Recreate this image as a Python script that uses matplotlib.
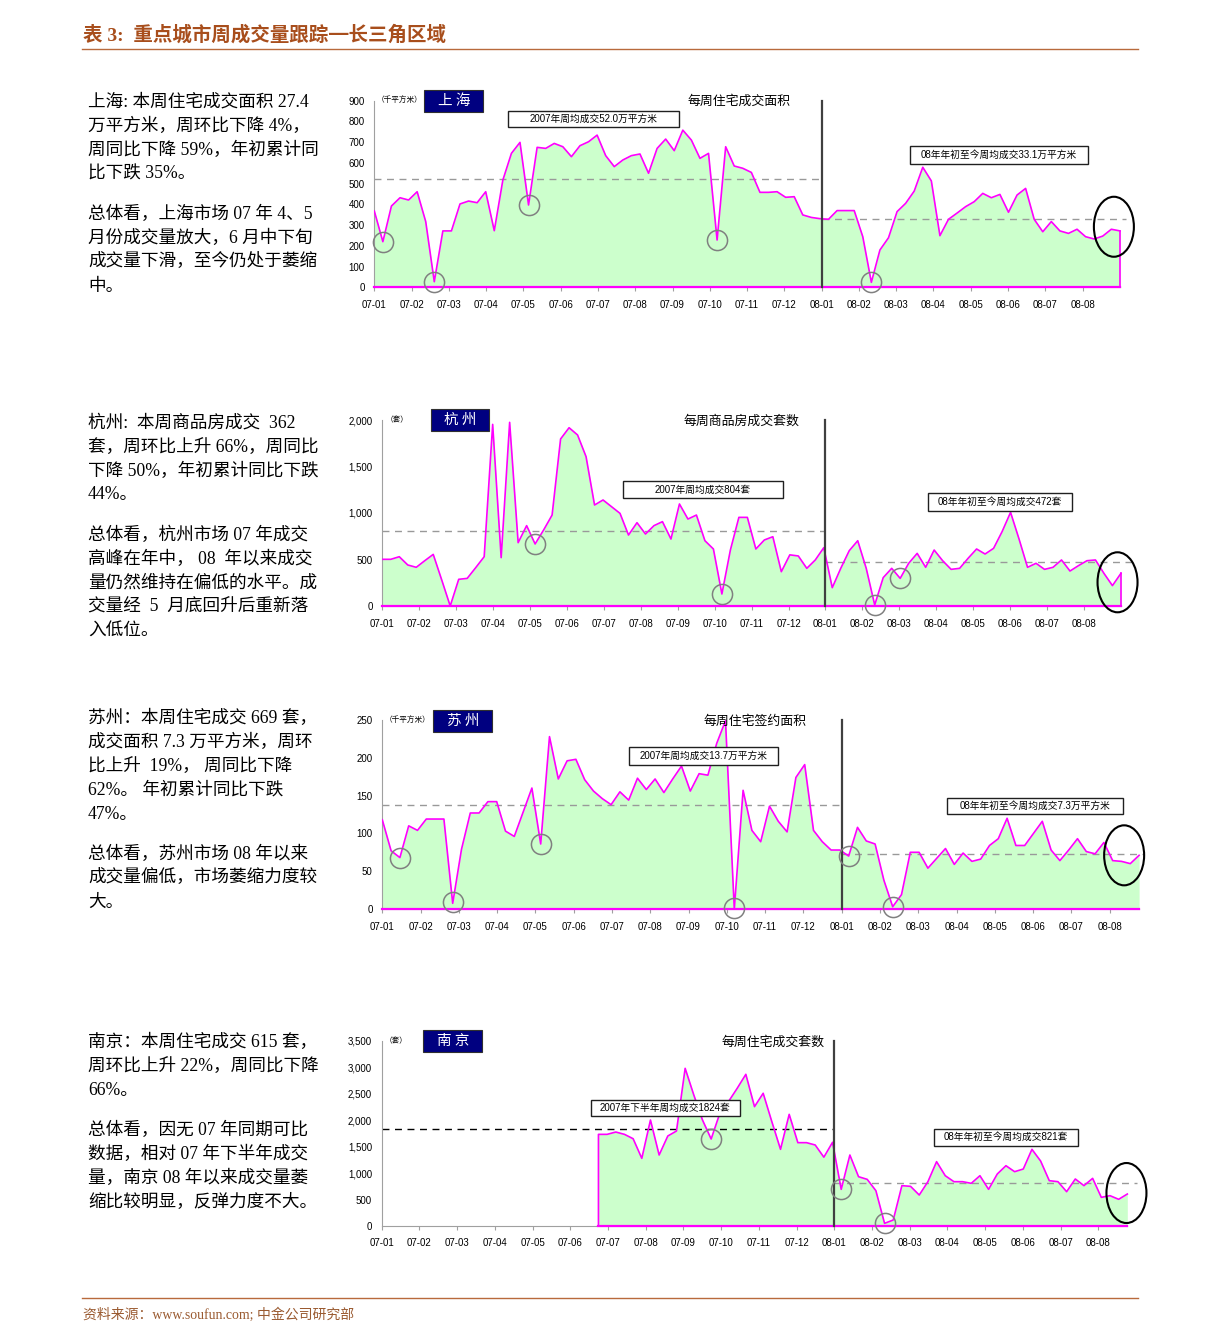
import numpy as np
import matplotlib
matplotlib.use('Agg')
import matplotlib.pyplot as plt
from matplotlib.patches import Rectangle, Ellipse
from matplotlib.ticker import FuncFormatter

# ---------------- data ----------------
months = ['07-01', '07-02', '07-03', '07-04', '07-05', '07-06', '07-07', '07-08', '07-09', '07-10',
          '07-11', '07-12', '08-01', '08-02', '08-03', '08-04', '08-05', '08-06', '08-07', '08-08']

sh_vals = [368, 220, 392, 432, 421, 461, 317, 27, 272, 272, 402, 416, 408, 461, 273, 517, 646, 699,
           397, 675, 670, 694, 678, 630, 683, 702, 734, 635, 582, 614, 635, 643, 550, 670, 715, 659,
           758, 710, 622, 646, 228, 678, 585, 574, 554, 458, 458, 461, 434, 437, 349, 337, 331, 328,
           370, 370, 370, 244, 24, 180, 239, 365, 405, 464, 579, 513, 249, 328, 358, 389, 413, 453,
           432, 448, 362, 445, 477, 328, 268, 317, 272, 260, 280, 244, 233, 247, 280, 272]
hz_vals = [502, 502, 530, 441, 416, 487, 555, 280, 0, 287, 297, 412, 530, 1953, 520, 1975, 681, 864,
           667, 817, 978, 1796, 1917, 1839, 1606, 1086, 1140, 1068, 996, 763, 896, 774, 864, 907, 720,
           1097, 935, 978, 702, 613, 129, 602, 953, 953, 613, 710, 745, 369, 550, 538, 405, 495, 627,
           197, 405, 595, 702, 405, 11, 305, 405, 297, 459, 566, 416, 602, 487, 394, 405, 513, 613,
           559, 620, 799, 1007, 720, 416, 459, 394, 416, 495, 376, 434, 487, 495, 351, 219, 351]
sz_vals = [118, 77, 68, 110, 104, 119, 119, 119, 7.5, 79, 127, 127, 142, 142, 103, 96, 128, 160, 86,
           228, 172, 196, 198, 171, 156, 146, 138, 155, 144, 173, 158, 172, 154, 172, 189, 156, 179,
           177, 219, 249, 0, 157, 104, 89, 136, 116, 102, 174, 191, 104, 89, 78, 78, 70, 108, 90, 86,
           38, 3, 19, 75, 75, 54, 67, 80, 59, 74, 63, 66, 84, 93, 120, 84, 84, 100, 116, 78, 64, 78,
           93, 76, 73, 88, 64, 63, 60, 71]
nj_vals = [None] * 25 + [1731, 1731, 1775, 1731, 1649, 1278, 2002, 1341, 1700, 1794, 2978, 2474, 2002,
                         1643, 2128, 2350, 2600, 2865, 2254, 2507, 1970, 1448, 2109, 1574, 1574, 1530,
                         1300, 1581, 692, 1341, 931, 881, 667, 50, 113, 762, 749, 585, 837, 1215, 950,
                         837, 837, 806, 950, 692, 982, 1139, 1026, 1076, 1448, 1227, 856, 837, 648, 888,
                         762, 900, 541, 573, 504, 604]

sh_avg = [520, 331]
hz_avg = [804, 472]
sz_avg = [137, 73]
nj_avg = [1824, 821]

sh_circles = [(1, 220), (7, 27), (18, 397), (40, 228), (58, 24)]
hz_circles = [(18, 667), (40, 129), (58, 11), (61, 297)]
sz_circles = [(2, 68), (8, 9), (18, 86), (40, 1), (53, 70), (58, 3)]
nj_circles = [(38, 1643), (53, 692), (58, 50)]

sh_ring = (86.3, 292)
hz_ring = (86.6, 255)
sz_ring = (84.3, 71)
nj_ring = (85.9, 623)

sh_yticks = [0, 100, 200, 300, 400, 500, 600, 700, 800, 900]
hz_yticks = [0, 500, 1000, 1500, 2000]
sz_yticks = [0, 50, 100, 150, 200, 250]
nj_yticks = [0, 500, 1000, 1500, 2000, 2500, 3000, 3500]

cities = ['上 海', '杭 州', '苏 州', '南 京']
units = ['（千平方米）', '（套）', '（千平方米）', '（套）']
subtitles = ['每周住宅成交面积', '每周商品房成交套数', '每周住宅签约面积', '每周住宅成交套数']
notes07 = ['2007年周均成交52.0万平方米', '2007年周均成交804套', '2007年周均成交13.7万平方米',
           '2007年下半年周均成交1824套']
notes08 = ['08年年初至今周均成交33.1万平方米', '08年年初至今周均成交472套',
           '08年年初至今周均成交7.3万平方米', '08年年初至今周均成交821套']

paragraphs = [
    ['上海: 本周住宅成交面积 27.4', '万平方米，周环比下降 4%，', '周同比下降 59%，年初累计同',
     '比下跌 35%。', None, '总体看，上海市场 07 年 4、5', '月份成交量放大，6 月中下旬',
     '成交量下滑，至今仍处于萎缩', '中。'],
    ['杭州:  本周商品房成交  362', '套，周环比上升 66%，周同比', '下降 50%，年初累计同比下跌',
     '44%。', None, '总体看，杭州市场 07 年成交', '高峰在年中， 08  年以来成交',
     '量仍然维持在偏低的水平。成', '交量经  5  月底回升后重新落', '入低位。'],
    ['苏州：本周住宅成交 669 套，', '成交面积 7.3 万平方米，周环', '比上升  19%， 周同比下降',
     '62%。 年初累计同比下跌', '47%。', None, '总体看，苏州市场 08 年以来',
     '成交量偏低，市场萎缩力度较', '大。'],
    ['南京：本周住宅成交 615 套，', '周环比上升 22%，周同比下降', '66%。', None,
     '总体看，因无 07 年同期可比', '数据，相对 07 年下半年成交', '量，南京 08 年以来成交量萎',
     '缩比较明显，反弹力度不大。'],
]

# ---------------- layout ----------------
W, H = 1224, 1344
fig = plt.figure(figsize=(W / 100, H / 100), dpi=100)

CJK = ['Noto Sans CJK SC', 'DejaVu Sans']
SANS = ['Liberation Sans', 'Noto Sans CJK SC', 'DejaVu Sans']
SERIF = ['Liberation Serif', 'Noto Sans CJK SC', 'DejaVu Sans']

MAG = '#FF00FF'
FILL = '#CCFFCC'
BROWN = '#A84E1C'


def fx(x):
    return x / W


def fy(y):
    return 1 - y / H


WPM = 4.35      # weeks per month on category axis
SPLIT = 52.2    # position of 2008 start line
XR = 89.5

panels = [
    dict(vals=sh_vals, avg=sh_avg, circ=sh_circles, ring=sh_ring, yt=sh_yticks,
         x0=374.3, ppw=8.57, yb=287.3, ytp=100.7, ymax=900, edge=True, full=True,
         box=(424.3, 90, 483.3, 111.7), unit=(377, 100), sub=(688, 101),
         n7=(507.7, 111, 678.7, 127), n8=(910, 146, 1088.3, 164), dash8=87.7, avg7c='#999999',
         ptext=(88, 102)),
    dict(vals=hz_vals, avg=hz_avg, circ=hz_circles, ring=hz_ring, yt=hz_yticks,
         x0=382.3, ppw=8.49, yb=606, ytp=420, ymax=2000, edge=True, full=True,
         box=(430.7, 409.3, 489.3, 431), unit=(386, 420), sub=(684, 421),
         n7=(622.7, 481, 782.7, 498.3), n8=(928.3, 493.3, 1071.7, 510.7), dash8=88.3,
         avg7c='#999999', ptext=(88, 423)),
    dict(vals=sz_vals, avg=sz_avg, circ=sz_circles, ring=sz_ring, yt=sz_yticks,
         x0=382.3, ppw=8.80, yb=909, ytp=720, ymax=250, edge=False, full=True,
         box=(433.3, 710, 492.3, 731.7), unit=(385, 720), sub=(703, 721),
         n7=(629.3, 747.3, 777.7, 765), n8=(947.3, 797.7, 1123.3, 814.3), dash8=86.4,
         avg7c='#999999', ptext=(88, 718)),
    dict(vals=nj_vals, avg=nj_avg, circ=nj_circles, ring=nj_ring, yt=nj_yticks,
         x0=381.7, ppw=8.67, yb=1226, ytp=1040.7, ymax=3500, edge=False, full=False,
         box=(423.3, 1030, 482.3, 1052.3), unit=(385, 1041), sub=(721, 1042),
         n7=(590.7, 1100, 740, 1116), n8=(934.3, 1129, 1078.3, 1145.7), dash8=87.1,
         avg7c='#000000', ptext=(88, 1042)),
]

for i, p in enumerate(panels):
    vals = np.array([np.nan if v is None else v for v in p['vals']], dtype=float)
    x = np.arange(len(vals))
    ok = ~np.isnan(vals)
    xs, vs = x[ok], vals[ok]
    h_px = p['yb'] - p['ytp']
    ax = fig.add_axes([fx(p['x0']), fy(p['yb']), XR * p['ppw'] / W, h_px / H])
    ax.set_xlim(0, XR)
    ax.set_ylim(0, p['ymax'])
    for s in ['top', 'right']:
        ax.spines[s].set_visible(False)
    ax.spines['left'].set_color('#A0A0A0')
    ax.spines['bottom'].set_color('#A0A0A0')
    ax.spines['bottom'].set_bounds(0, len(vals) - 1)
    ax.patch.set_alpha(0)

    ax.fill_between(xs, vs, 0, color=FILL, lw=0, zorder=1)
    if p['full']:
        ax.plot(xs, vs, color=MAG, lw=1.2, zorder=3)
    else:
        ax.plot(np.r_[xs[0], xs], np.r_[0, vs], color=MAG, lw=1.2, zorder=3)
    ax.plot([xs[0], xs[-1]], [0, 0], color=MAG, lw=1.6, zorder=3, clip_on=False)
    if p['edge']:
        ax.plot([xs[-1], xs[-1]], [0, vs[-1]], color=MAG, lw=1.2, zorder=3)

    # averages
    ax.plot([0, SPLIT], [p['avg'][0]] * 2, color=p['avg7c'], lw=1, ls=(0, (5, 4)), zorder=2)
    ax.plot([SPLIT, p['dash8']], [p['avg'][1]] * 2, color='#999999', lw=1, ls=(0, (5, 4)), zorder=2)
    # 2008 split line
    ax.plot([SPLIT, SPLIT], [0, p['ymax']], color='#404040', lw=1.6, zorder=4, clip_on=False)

    # circles
    cx = [c[0] for c in p['circ']]
    cy = [c[1] for c in p['circ']]
    ax.plot(cx, cy, 'o', ms=14.5, mfc='none', mec='#808080', mew=1.1, zorder=5, clip_on=False)
    ppu = h_px / p['ymax']
    ax.add_patch(Ellipse(p['ring'], width=40 / p['ppw'], height=60 / ppu, fill=False,
                         ec='black', lw=1.5, zorder=6, clip_on=False))

    # ticks
    ax.set_xticks(np.arange(len(months)) * WPM)
    ax.set_xticklabels(months, fontsize=7, family=SANS)
    ax.set_yticks(p['yt'])
    ax.yaxis.set_major_formatter(FuncFormatter(lambda v, pos: f'{int(v):,}'))
    ax.tick_params(axis='x', length=3, color='#A0A0A0', pad=6)
    ax.tick_params(axis='y', length=0, pad=7, labelsize=7)
    for t in ax.get_yticklabels():
        t.set_family(SANS)

    # city box
    bx0, by0, bx1, by1 = p['box']
    fig.add_artist(Rectangle((fx(bx0), fy(by1)), (bx1 - bx0) / W, (by1 - by0) / H,
                             transform=fig.transFigure, fc='#000080', ec='#303030', lw=0.8))
    fig.text(fx((bx0 + bx1) / 2), fy((by0 + by1) / 2), cities[i], color='white', fontsize=10.5,
             family=CJK, ha='center', va='center')
    # unit & subtitle
    fig.text(fx(p['unit'][0]), fy(p['unit'][1]), units[i], fontsize=5.5, family=CJK,
             ha='left', va='center')
    fig.text(fx(p['sub'][0]), fy(p['sub'][1]), subtitles[i], fontsize=9.3, family=CJK,
             ha='left', va='center')
    # note boxes
    for rect, txt in [(p['n7'], notes07[i]), (p['n8'], notes08[i])]:
        rx0, ry0, rx1, ry1 = rect
        fig.add_artist(Rectangle((fx(rx0), fy(ry1)), (rx1 - rx0) / W, (ry1 - ry0) / H,
                                 transform=fig.transFigure, fc='white', ec='#202020', lw=1))
        fig.text(fx((rx0 + rx1) / 2), fy((ry0 + ry1) / 2), txt, fontsize=7, family=SANS,
                 ha='center', va='center')

    # paragraph
    tx, ty = p['ptext']
    yy = ty
    for line in paragraphs[i]:
        if line is None:
            yy += 16
            continue
        fig.text(fx(tx), fy(yy), line, fontsize=12.7, family=SERIF, ha='left', va='center')
        yy += 24

# header & footer
t1 = fig.text(fx(83), fy(35), '表 3:  重点城市周成交量跟踪', fontsize=14, fontweight='bold',
              color=BROWN, family=SERIF, ha='left', va='center')
renderer = fig.canvas.get_renderer()
bb = t1.get_window_extent(renderer=renderer)
fig.text(bb.x1 / W + 1 / W, fy(35), '━长三角区域', fontsize=14, fontweight='bold',
         color=BROWN, family=CJK, ha='left', va='center')
fig.add_artist(plt.Line2D([fx(82), fx(1138)], [fy(48.5), fy(48.5)], color='#B86A3C', lw=1,
                          transform=fig.transFigure))
fig.add_artist(plt.Line2D([fx(82), fx(1138)], [fy(1298), fy(1298)], color='#B86A3C', lw=1,
                          transform=fig.transFigure))
fig.text(fx(83), fy(1315), '资料来源：www.soufun.com; 中金公司研究部', fontsize=10, color='#9A5A30',
         family=SERIF, ha='left', va='center')

fig.savefig('out.png', dpi=100)
